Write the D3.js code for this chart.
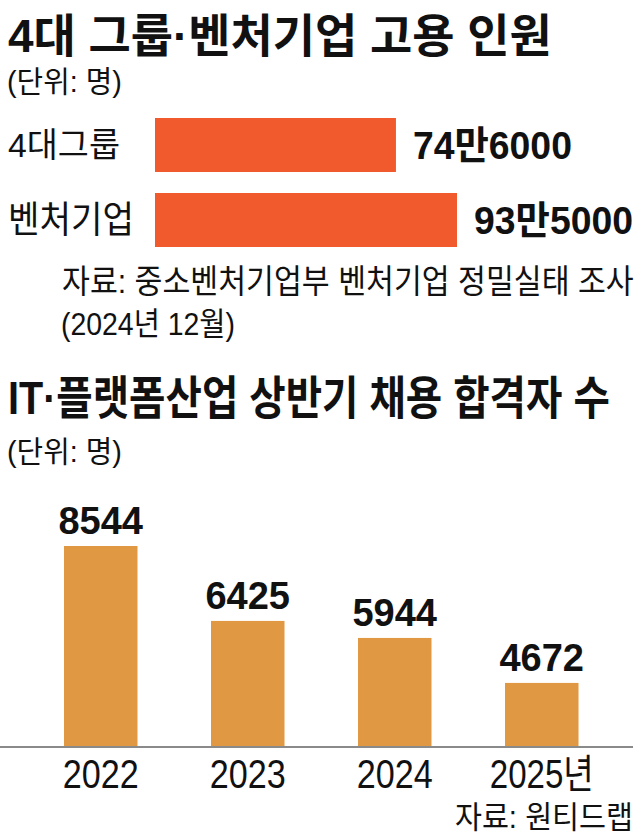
<!DOCTYPE html>
<html><head><meta charset="utf-8">
<script src="https://cdn.jsdelivr.net/npm/d3@7"></script>
<style>
html,body{margin:0;padding:0;background:#fff;}
text{font-family:"Liberation Sans","Noto Sans CJK KR",sans-serif;}
</style></head>
<body>
<svg id="c" width="636" height="835"></svg>
<script>
const groupCategories = ["4대그룹", "벤처기업"];
const groupValues = [746000, 935000];
const groupLabels = ["74만6000", "93만5000"];

const years = ["2022", "2023", "2024", "2025"];
const yearLabels = ["2022", "2023", "2024", "2025년"];
const hires = [8544, 6425, 5944, 4672];

const svg = d3.select("#c");

// place a text at (x, y) and squeeze/stretch it horizontally to a target width
function fitText(parent, x, y, s, size, weight, width) {
  const t = parent.append("text").attr("x", 0).attr("y", 0).text(s)
    .attr("font-size", size).attr("font-weight", weight || "normal")
    .attr("fill", "#111");
  const nat = t.node().getComputedTextLength();
  const sx = width ? width / nat : 1;
  t.attr("transform", `translate(${x},${y}) scale(${sx},1)`);
  return t;
}

// ---- Chart 1 ----
fitText(svg, 8, 52, "4대 그룹·벤처기업 고용 인원", 46, "bold", 544);
fitText(svg, 7, 92, "(단위: 명)", 30, "normal", 115);

const x1 = d3.scaleLinear().domain([0, d3.max(groupValues)]).range([155, 457]);
const y1 = d3.scaleBand().domain(groupCategories).range([118, 247]).paddingInner(0.28);

const g1 = svg.append("g");
g1.selectAll("rect").data(groupValues).join("rect")
  .attr("x", x1(0))
  .attr("y", (d, i) => y1(groupCategories[i]))
  .attr("width", d => x1(d) - x1(0))
  .attr("height", y1.bandwidth())
  .attr("fill", "#F05A2C");

const catSize = [34, 37], catLen = [112, 126];
groupCategories.forEach((c, i) => {
  fitText(g1, 8, y1(c) + y1.bandwidth() / 2 + catSize[i] * 0.36, c, catSize[i], "normal", catLen[i]);
});
groupValues.forEach((v, i) => {
  fitText(g1, x1(v) + 17, y1(groupCategories[i]) + y1.bandwidth() / 2 + 39 * 0.37,
    groupLabels[i], 39, "bold", 159);
});

fitText(svg, 62, 293, "자료: 중소벤처기업부 벤처기업 정밀실태 조사", 33, "normal", 572);
fitText(svg, 61, 335, "(2024년 12월)", 32, "normal", 174);

// ---- Chart 2 ----
fitText(svg, 8, 414, "IT·플랫폼산업 상반기 채용 합격자 수", 46, "bold", 602);
fitText(svg, 7, 462, "(단위: 명)", 30, "normal", 115);

const baseY = 747;
const x2 = d3.scaleBand().domain(years).range([27.25, 615.25]).paddingInner(0.5).paddingOuter(0.25);
const y2 = d3.scaleLinear().domain([2860, 8544]).range([baseY, 546]);

const g2 = svg.append("g");
g2.selectAll("rect").data(hires).join("rect")
  .attr("x", (d, i) => x2(years[i]))
  .attr("y", d => y2(d))
  .attr("width", x2.bandwidth())
  .attr("height", d => baseY - y2(d))
  .attr("fill", "#E19843");

g2.selectAll("text.val").data(hires).join("text")
  .attr("class", "val")
  .attr("x", (d, i) => x2(years[i]) + x2.bandwidth() / 2)
  .attr("y", d => y2(d) - 12)
  .attr("text-anchor", "middle").attr("font-size", 38).attr("font-weight", "bold")
  .attr("fill", "#111")
  .text(d => d);

// axis
const axis = d3.axisBottom(x2).tickSize(0).tickPadding(13).tickFormat((d, i) => yearLabels[i]);
const ax = svg.append("g").attr("transform", `translate(0,${baseY})`).call(axis);
ax.select(".domain").remove();
ax.append("line").attr("x1", 0).attr("x2", 633).attr("y1", 0).attr("y2", 0)
  .attr("stroke", "#8a8a8a").attr("stroke-width", 2);
const tickW = [76, 76, 76, 104];
ax.selectAll(".tick text").attr("font-size", 40).attr("fill", "#111")
  .attr("font-family", "'Liberation Sans','Noto Sans CJK KR',sans-serif")
  .each(function(d, i) {
    const nat = this.getComputedTextLength();
    d3.select(this).attr("transform", `scale(${tickW[i] / nat},1)`);
  });

fitText(svg, 633 - 178, 828, "자료: 원티드랩", 31, "normal", 178);
</script>
</body></html>
